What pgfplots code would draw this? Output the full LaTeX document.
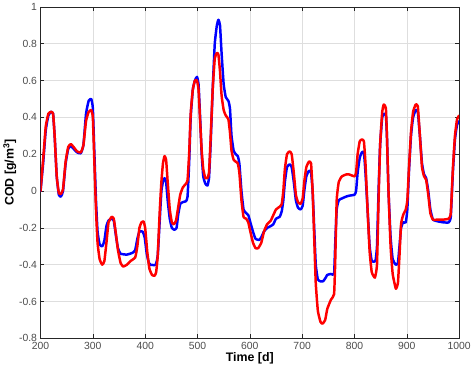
\documentclass[border=0pt]{standalone}
\usepackage{pgfplots}
\pgfplotsset{compat=1.18}
\usepackage{fontspec}
\setmainfont{Liberation Sans}
\definecolor{axgray}{gray}{0.15}
\definecolor{gridgray}{gray}{0.87}
\begin{document}
\begin{tikzpicture}
\begin{axis}[
  scale only axis,
  width=423pt, height=335pt,
  xmin=200, xmax=1000, ymin=-0.8, ymax=1,
  xtick={200,300,...,1000},
  ytick={-0.8,-0.6,...,1.01},
  yticklabels={-0.8,-0.6,-0.4,-0.2,0,0.2,0.4,0.6,0.8,1},
  grid=major,
  major grid style={gridgray, line width=0.5pt},
  axis line style={axgray, line width=0.6pt},
  tick style={axgray, line width=0.6pt},
  tick align=inside,
  major tick length=4pt,
  tick label style={font=\fontsize{10.5}{12}\selectfont, text=black!70},
  /pgf/number format/assume math mode=true,
  /pgf/number format/1000 sep={},
  scaled x ticks=false,
  xlabel={\textbf{Time [d]}},
  ylabel={\textbf{COD [g/m$^{\mathbf{3}}$]}},
  label style={font=\fontsize{12.5}{14}\selectfont},
  xlabel style={yshift=4pt},
  ylabel style={yshift=-4pt},
  every axis plot/.append style={line width=2.5pt, line join=round, line cap=round, smooth, tension=0.25},
]
\addplot[blue, no markers] coordinates {
(200,0.0)(205,0.15)(210,0.33)(215,0.41)(220,0.43)(224,0.42)(227,0.30)(231,0.08)(235,-0.02)(239,-0.03)
(243,0.00)(248,0.15)(253,0.23)(258,0.245)(263,0.23)(270,0.21)(277,0.205)(282,0.25)(287,0.42)(292,0.49)
(297,0.50)(300,0.45)(303,0.20)(306,-0.05)(309,-0.22)(313,-0.29)(318,-0.30)(322,-0.27)(326,-0.19)(330,-0.16)
(336,-0.15)(340,-0.16)(344,-0.24)(348,-0.31)(353,-0.34)(365,-0.345)(376,-0.335)(381,-0.32)(385,-0.26)(389,-0.22)
(395,-0.22)(399,-0.25)(403,-0.34)(407,-0.39)(410,-0.40)(420,-0.40)(424,-0.35)(428,-0.15)(431,0.0)(434,0.05)
(437,0.07)(440,0.05)(443,-0.05)(447,-0.15)(451,-0.20)(456,-0.21)(460,-0.20)(463,-0.13)(467,-0.07)(472,-0.06)
(478,-0.055)(481,-0.03)(484,0.15)(487,0.40)(491,0.55)(495,0.60)(499,0.62)(502,0.58)(505,0.40)(508,0.20)
(511,0.08)(515,0.04)(519,0.03)(522,0.07)(525,0.25)(529,0.55)(533,0.80)(537,0.90)(540,0.93)(543,0.90)
(546,0.75)(550,0.58)(554,0.51)(559,0.49)(562,0.45)(565,0.30)(569,0.22)(573,0.20)(577,0.19)(580,0.15)
(584,0.00)(588,-0.10)(593,-0.12)(597,-0.13)(601,-0.17)(606,-0.22)(611,-0.26)(618,-0.265)(622,-0.25)(627,-0.22)
(633,-0.20)(640,-0.19)(645,-0.18)(650,-0.15)(657,-0.14)(661,-0.11)(664,-0.05)(667,0.05)(671,0.13)(676,0.145)
(680,0.13)(684,0.05)(688,-0.05)(692,-0.09)(697,-0.10)(701,-0.08)(704,0.00)(708,0.08)(713,0.11)(717,0.10)
(720,0.0)(723,-0.20)(726,-0.40)(730,-0.48)(735,-0.49)(740,-0.49)(745,-0.47)(748,-0.455)(755,-0.45)(761,-0.45)
(763,-0.30)(766,-0.10)(770,-0.05)(776,-0.04)(784,-0.03)(790,-0.025)(800,-0.02)(803,0.0)(806,0.10)(810,0.18)
(814,0.21)(818,0.21)(821,0.10)(825,-0.10)(829,-0.30)(833,-0.38)(840,-0.38)(843,-0.30)(846,0.00)(849,0.25)
(853,0.40)(856,0.42)(860,0.41)(862,0.30)(865,0.00)(869,-0.25)(873,-0.37)(879,-0.40)(883,-0.39)(886,-0.30)
(889,-0.20)(893,-0.17)(898,-0.17)(901,-0.10)(904,0.10)(908,0.30)(912,0.40)(917,0.44)(921,0.43)(925,0.30)
(929,0.15)(933,0.09)(937,0.07)(941,0.0)(945,-0.10)(950,-0.155)(960,-0.165)(970,-0.17)(980,-0.17)(984,-0.14)
(988,0.10)(992,0.28)(996,0.36)(1000,0.38)
};
\addplot[red, no markers] coordinates {
(200,0.0)(205,0.17)(210,0.35)(215,0.42)(220,0.43)(224,0.42)(227,0.30)(231,0.08)(235,-0.01)(239,-0.015)
(243,0.01)(248,0.16)(253,0.24)(258,0.255)(263,0.24)(270,0.215)(277,0.21)(282,0.25)(287,0.38)(292,0.43)
(297,0.44)(300,0.40)(303,0.15)(306,-0.10)(309,-0.28)(313,-0.37)(318,-0.40)(322,-0.38)(326,-0.28)(330,-0.17)
(336,-0.14)(340,-0.15)(344,-0.23)(348,-0.32)(353,-0.39)(358,-0.41)(365,-0.40)(372,-0.38)(381,-0.36)(385,-0.30)
(389,-0.20)(393,-0.17)(397,-0.165)(400,-0.20)(404,-0.33)(408,-0.42)(413,-0.455)(418,-0.46)(421,-0.44)(424,-0.35)
(428,-0.10)(431,0.05)(434,0.15)(437,0.19)(440,0.17)(443,0.05)(447,-0.10)(451,-0.17)(455,-0.18)(459,-0.16)
(463,-0.09)(467,-0.02)(472,0.02)(478,0.04)(481,0.06)(484,0.20)(487,0.42)(491,0.55)(495,0.60)(499,0.60)
(502,0.55)(505,0.38)(508,0.22)(511,0.12)(515,0.07)(519,0.07)(522,0.10)(525,0.28)(529,0.55)(533,0.72)
(537,0.75)(540,0.74)(543,0.65)(546,0.52)(550,0.44)(554,0.41)(559,0.39)(562,0.32)(565,0.22)(569,0.17)
(573,0.16)(577,0.15)(580,0.10)(584,-0.05)(588,-0.14)(593,-0.15)(597,-0.17)(601,-0.22)(606,-0.28)(611,-0.31)
(616,-0.31)(622,-0.28)(627,-0.22)(633,-0.18)(640,-0.16)(645,-0.13)(650,-0.10)(657,-0.085)(661,-0.07)(664,0.0)
(667,0.12)(671,0.20)(676,0.215)(680,0.20)(684,0.10)(688,-0.02)(692,-0.06)(697,-0.07)(701,-0.04)(704,0.05)
(708,0.13)(713,0.16)(717,0.15)(720,0.0)(723,-0.25)(726,-0.50)(730,-0.65)(735,-0.71)(739,-0.72)(744,-0.70)
(748,-0.64)(755,-0.59)(761,-0.56)(763,-0.40)(766,-0.05)(770,0.05)(776,0.08)(784,0.09)(790,0.09)(800,0.08)
(803,0.10)(806,0.20)(810,0.27)(814,0.28)(818,0.27)(821,0.15)(825,-0.10)(829,-0.33)(833,-0.44)(839,-0.47)
(843,-0.40)(846,-0.05)(849,0.25)(853,0.43)(856,0.47)(860,0.45)(862,0.30)(865,0.0)(869,-0.30)(873,-0.45)
(879,-0.53)(883,-0.50)(886,-0.35)(889,-0.18)(893,-0.13)(898,-0.10)(901,-0.05)(904,0.12)(908,0.32)(912,0.43)
(917,0.47)(921,0.46)(925,0.30)(929,0.13)(933,0.08)(937,0.06)(941,-0.02)(945,-0.12)(950,-0.155)(960,-0.155)
(970,-0.155)(980,-0.15)(984,-0.12)(988,0.12)(992,0.30)(996,0.39)(1000,0.41)
};
\end{axis}
\end{tikzpicture}
\end{document}
